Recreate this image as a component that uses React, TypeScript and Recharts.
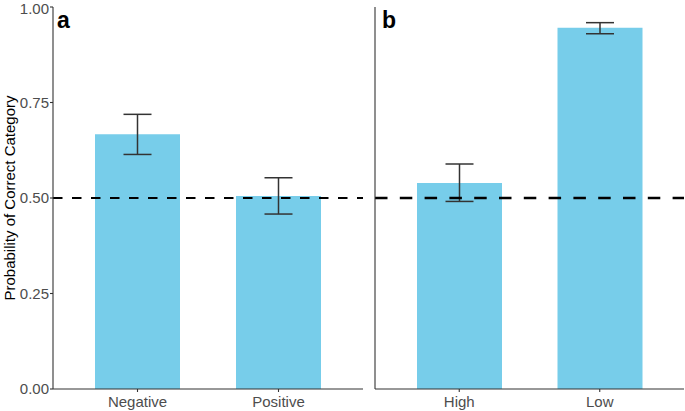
import { Bar, BarChart, ErrorBar, ReferenceLine, XAxis, YAxis } from "recharts";

const FONT = "'Liberation Sans', Arial, Helvetica, sans-serif";
const BAR_COLOR = "#77CDEA";
const AXIS_COLOR = "#333333";

const yTicks = [0, 0.25, 0.5, 0.75, 1];

const valenceCats = ["Negative", "Positive"];
const valenceMean = [0.667, 0.505];
const valenceLow = [0.614, 0.458];
const valenceHigh = [0.719, 0.553];

const arousalCats = ["High", "Low"];
const arousalMean = [0.539, 0.946];
const arousalLow = [0.491, 0.930];
const arousalHigh = [0.589, 0.959];

function buildRows(cats: string[], mean: number[], low: number[], high: number[]) {
  return cats.map((c, i) => ({
    category: c,
    p: mean[i],
    err: [mean[i] - low[i], high[i] - mean[i]],
  }));
}

const valenceRows = buildRows(valenceCats, valenceMean, valenceLow, valenceHigh);
const arousalRows = buildRows(arousalCats, arousalMean, arousalLow, arousalHigh);

const tickStyle = { fill: "#4D4D4D", fontSize: 15, fontFamily: FONT };

function YTitle(props: any) {
  const { viewBox } = props;
  const cy = viewBox.y + viewBox.height / 2;
  const x = 15;
  return (
    <text
      x={x}
      y={cy}
      transform={`rotate(-90 ${x} ${cy})`}
      textAnchor="middle"
      fontSize={15}
      fontFamily={FONT}
      fill="#000"
    >
      Probability of Correct Category
    </text>
  );
}

function PanelLabel({ text, left }: { text: string; left: number }) {
  return (
    <div
      style={{
        position: "absolute",
        left,
        top: 7,
        fontFamily: FONT,
        fontWeight: 700,
        fontSize: 23,
        lineHeight: "26px",
        color: "#000",
      }}
    >
      {text}
    </div>
  );
}

export default function App() {
  return (
    <div style={{ position: "absolute", left: 0, top: 0, width: 685, height: 411, background: "#fff" }}>
      <div style={{ position: "absolute", left: 0, top: 0 }}>
        <BarChart width={363} height={411} data={valenceRows} margin={{ top: 7, right: 0, bottom: 0, left: 0 }}>
          <XAxis
            dataKey="category"
            height={22}
            padding={{ left: 14, right: 14 }}
            tick={tickStyle}
            tickSize={3}
            tickMargin={4}
            stroke={AXIS_COLOR}
            strokeWidth={1.1}
          />
          <YAxis
            width={53}
            domain={[0, 1]}
            ticks={yTicks}
            tickFormatter={(v) => Number(v).toFixed(2)}
            tick={tickStyle}
            tickSize={3}
            tickMargin={1}
            stroke={AXIS_COLOR}
            strokeWidth={1.1}
            label={<YTitle />}
          />
          <Bar dataKey="p" fill={BAR_COLOR} barSize={85} isAnimationActive={false}>
            <ErrorBar dataKey="err" width={14} stroke={AXIS_COLOR} strokeWidth={1.5} />
          </Bar>
          <ReferenceLine y={0.5} stroke="#000" strokeWidth={2.2} strokeDasharray="9.5 9.5" />
        </BarChart>
      </div>
      <div style={{ position: "absolute", left: 363, top: 0 }}>
        <BarChart width={322} height={411} data={arousalRows} margin={{ top: 7, right: 1, bottom: 0, left: 0 }}>
          <XAxis
            dataKey="category"
            height={22}
            padding={{ left: 14, right: 14 }}
            tick={tickStyle}
            tickSize={3}
            tickMargin={4}
            stroke={AXIS_COLOR}
            strokeWidth={1.1}
          />
          <YAxis
            width={12}
            domain={[0, 1]}
            ticks={yTicks}
            tick={false}
            tickSize={3}
            stroke={AXIS_COLOR}
            strokeWidth={1.1}
          />
          <Bar dataKey="p" fill={BAR_COLOR} barSize={85} isAnimationActive={false}>
            <ErrorBar dataKey="err" width={14} stroke={AXIS_COLOR} strokeWidth={1.5} />
          </Bar>
          <ReferenceLine y={0.5} stroke="#000" strokeWidth={2.7} strokeDasharray="12.5 12.3" />
        </BarChart>
      </div>
      <PanelLabel text="a" left={57} />
      <PanelLabel text="b" left={382} />
    </div>
  );
}
